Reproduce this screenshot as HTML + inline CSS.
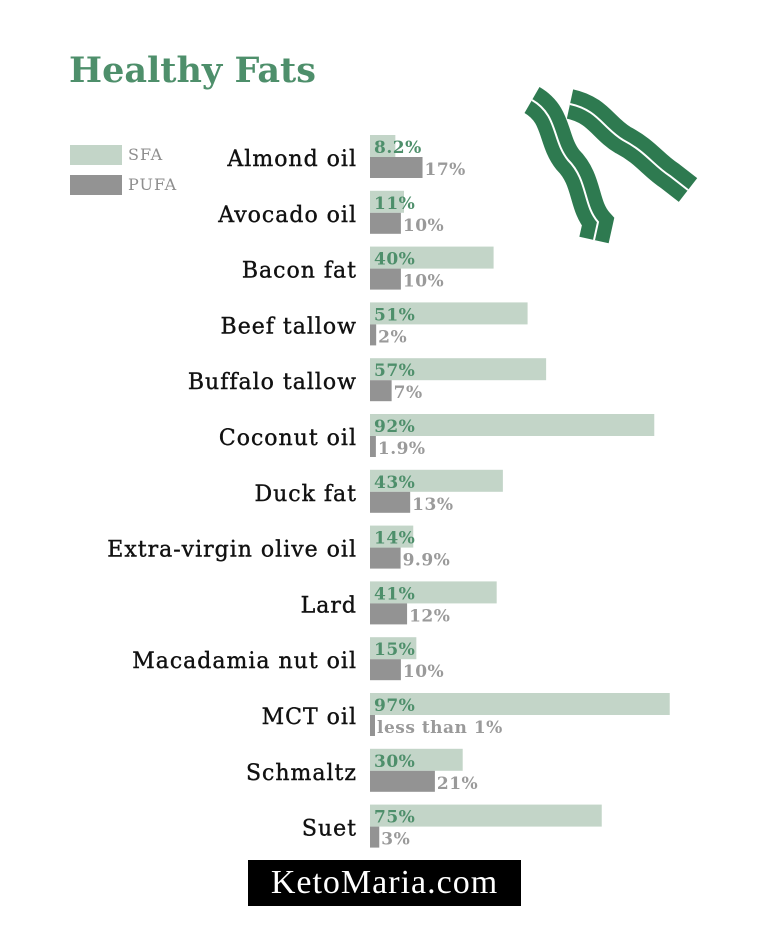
<!DOCTYPE html>
<html><head><meta charset="utf-8"><style>
html,body{margin:0;padding:0;background:#fff;}
body{width:768px;height:936px;position:relative;overflow:hidden;font-family:"DejaVu Serif","Liberation Serif",serif;}
#title{position:absolute;left:69px;top:50px;font-size:35px;font-weight:bold;color:#4e8f6b;}
.sw{position:absolute;left:70px;width:52px;height:20px;}
.lt{position:absolute;left:128px;font-size:16px;letter-spacing:1px;color:#8e8e8e;}
#brand{position:absolute;left:248px;top:860px;width:273px;height:46px;background:#000;color:#fff;font-size:34px;letter-spacing:1px;text-align:center;line-height:46px;font-family:"Liberation Serif",serif;}
svg{position:absolute;left:0;top:0;}
</style></head><body>
<div id="title">Healthy Fats</div>
<div class="sw" style="top:145px;background:#c3d5c8"></div>
<div class="lt" style="top:145px">SFA</div>
<div class="sw" style="top:175px;background:#939393"></div>
<div class="lt" style="top:175px">PUFA</div>
<svg width="768" height="936" id="chart">
<g fill="none" stroke-linecap="butt">
<path d="M532,100 C558,115 552,140 568,160 C588,180 583,205 598,222 L594,240" stroke="#2e7a50" stroke-width="30"/>
<path d="M532,100 C558,115 552,140 568,160 C588,180 583,205 598,222 L594,240" stroke="#fff" stroke-width="2"/>
<path d="M570,104 C598,110 603,128 623,140 C646,152 653,165 670,176 L688,190" stroke="#2e7a50" stroke-width="30"/>
<path d="M570,104 C598,110 603,128 623,140 C646,152 653,165 670,176 L688,190" stroke="#fff" stroke-width="2"/>
</g>
</svg>
<div id="brand">KetoMaria.com</div>
<script>
const categories=["Almond oil","Avocado oil","Bacon fat","Beef tallow","Buffalo tallow","Coconut oil","Duck fat","Extra-virgin olive oil","Lard","Macadamia nut oil","MCT oil","Schmaltz","Suet"];
const sfaValues=[8.2,11,40,51,57,92,43,14,41,15,97,30,75];
const pufaValues=[17,10,10,2,7,1.9,13,9.9,12,10,0.8,21,3];
const sfaLabels=["8.2%","11%","40%","51%","57%","92%","43%","14%","41%","15%","97%","30%","75%"];
const pufaLabels=["17%","10%","10%","2%","7%","1.9%","13%","9.9%","12%","10%","less than 1%","21%","3%"];
const NS="http://www.w3.org/2000/svg";
const svg=document.getElementById('chart');
const x0=370, pxPer=3.09;
function xs(v){return v*pxPer;}
function rowY(i){return 135+i*55.8;}
function mk(t,a){const e=document.createElementNS(NS,t);for(const k in a)e.setAttribute(k,a[k]);svg.appendChild(e);return e;}
categories.forEach((c,i)=>{
  const y=rowY(i);
  const lab=mk('text',{x:357,y:y+31,'text-anchor':'end','font-size':22,'letter-spacing':1,fill:'#111',stroke:'#111','stroke-width':0.4,'font-family':'DejaVu Serif, serif'});
  lab.textContent=c;
  
  
  const b1=mk('rect',{x:x0,y:y,width:xs(sfaValues[i]),height:22,fill:'#c3d5c8'});
  
  
  const pw=Math.max(xs(pufaValues[i]),5);
  const b2=mk('rect',{x:x0,y:y+22,width:pw,height:21,fill:'#939393'});
  
  
  const t1=mk('text',{x:x0+4,y:y+18,'font-size':17,'letter-spacing':0.5,'font-weight':'bold',fill:'#4e8f6b','font-family':'DejaVu Serif, serif'});
  t1.textContent=sfaLabels[i];
  
  
  const t2=mk('text',{x:x0+pw+2,y:y+40,'font-size':17,'letter-spacing':0.5,'font-weight':'bold',fill:'#9a9a9a','font-family':'DejaVu Serif, serif'});
  t2.textContent=pufaLabels[i];
  
  
});
</script>
</body></html>
